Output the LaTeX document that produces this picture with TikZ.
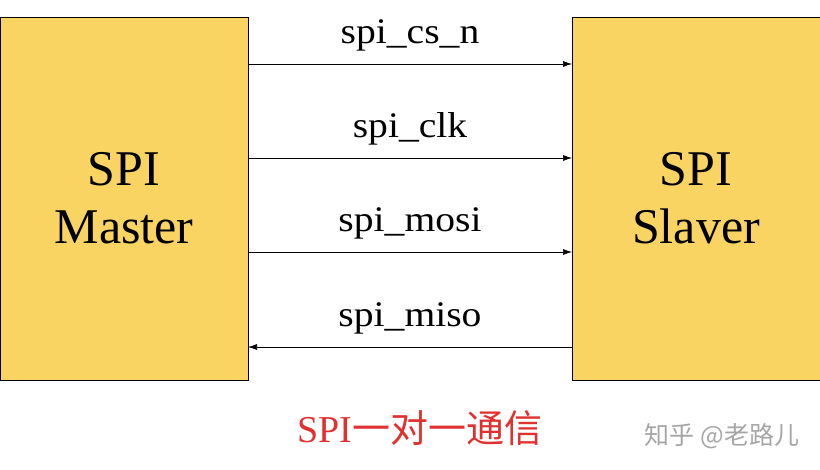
\documentclass[tikz,border=0pt]{standalone}
\usepackage{fontspec}
\setmainfont{Liberation Serif}
\newfontfamily\cjk{Noto Sans CJK SC}
\usetikzlibrary{arrows.meta}
\definecolor{boxfill}{HTML}{F9D463}
\tikzset{
  blk/.style={draw=black, line width=0.8pt, fill=boxfill, minimum width=248pt, minimum height=363pt, inner sep=0pt, align=center, font=\fontsize{50}{58}\selectfont},
  sig/.style={-{Latex[length=9pt,width=6pt]}, line width=0.6pt},
  lbl/.style={font=\fontsize{36}{38}\selectfont, inner sep=0pt, xscale=1.1}
}
\begin{document}
\begin{tikzpicture}[x=1pt,y=-1pt]
\useasboundingbox (0,0) rectangle (820,469);
\node[blk] (m) at (124,198.5) {SPI\\Master};
\node[blk] (s) at (696,198.5) {SPI\\Slaver};
\coordinate (m1) at (248,64); \coordinate (s1) at (572,64);
\coordinate (m2) at (248,158); \coordinate (s2) at (572,158);
\coordinate (m3) at (248,252); \coordinate (s3) at (572,252);
\coordinate (m4) at (248,347); \coordinate (s4) at (572,347);
\draw[sig] (m1) -- node[lbl, above=13pt] (l1) {spi\_cs\_n} (s1);
\draw[sig] (m2) -- node[lbl, above=13pt] (l2) {spi\_clk} (s2);
\draw[sig] (m3) -- node[lbl, above=13pt] (l3) {spi\_mosi} (s3);
\draw[sig] (s4) -- node[lbl, above=13pt] (l4) {spi\_miso} (m4);
\node[text={rgb,255:red,224;green,48;blue,47}, font=\fontsize{38}{42}\selectfont] (cap) at (420,428) {SPI{\cjk 一对一通信}};
\node[text=gray!70, font=\cjk\fontsize{25}{28}\selectfont] (wm) at (722,436) {知乎 @老路儿};
\end{tikzpicture}
\end{document}
